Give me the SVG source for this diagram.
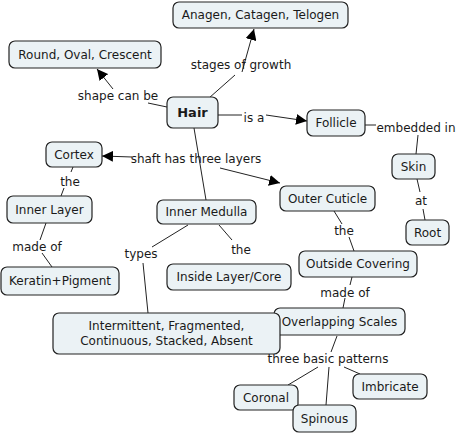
<svg xmlns="http://www.w3.org/2000/svg" width="458" height="434" viewBox="0 0 458 434">
<defs>
<marker id="arr" viewBox="0 0 10 10" refX="10" refY="5" markerWidth="11" markerHeight="11" markerUnits="userSpaceOnUse" orient="auto">
<path d="M0,0 L10,5 L0,10 Z" fill="#000"/>
</marker>
</defs>
<style>
.n rect{fill:#ebf2f5;stroke:#222;stroke-width:1.2}
text{font-family:"DejaVu Sans",Verdana,sans-serif;font-size:12px;fill:#1a1a1a;text-anchor:middle}
.c line{stroke:#222;stroke-width:1}
.b{font-weight:bold;font-size:13px}
</style>
<rect width="458" height="434" fill="#fff"/>
<g class="c" id="connectors">
<line x1="209" y1="98" x2="235" y2="75"/>
<line x1="242" y1="72" x2="254" y2="29" marker-end="url(#arr)"/>
<line x1="167" y1="107" x2="148" y2="103"/>
<line x1="113" y1="89" x2="97" y2="69" marker-end="url(#arr)"/>
<line x1="218" y1="115" x2="242" y2="115"/>
<line x1="266" y1="115" x2="307" y2="121" marker-end="url(#arr)"/>
<line x1="365" y1="125" x2="376" y2="125"/>
<line x1="418" y1="135" x2="416" y2="154"/>
<line x1="417" y1="179" x2="420" y2="192"/>
<line x1="423" y1="209" x2="425" y2="220"/>
<line x1="194" y1="128" x2="206" y2="200"/>
<line x1="132" y1="157" x2="102" y2="156" marker-end="url(#arr)"/>
<line x1="220" y1="168" x2="280" y2="183" marker-end="url(#arr)"/>
<line x1="73" y1="167" x2="71" y2="172"/>
<line x1="64" y1="188" x2="61" y2="196"/>
<line x1="46" y1="223" x2="40" y2="240"/>
<line x1="42" y1="253" x2="52" y2="267"/>
<line x1="188" y1="225" x2="152" y2="247"/>
<line x1="143" y1="263" x2="148" y2="313"/>
<line x1="219" y1="225" x2="232" y2="240"/>
<line x1="334" y1="211" x2="342" y2="224"/>
<line x1="349" y1="237" x2="354" y2="251"/>
<line x1="352" y1="277" x2="350" y2="285"/>
<line x1="345" y1="298" x2="343" y2="308"/>
<line x1="337" y1="336" x2="331" y2="352"/>
<line x1="318" y1="367" x2="288" y2="385"/>
<line x1="329" y1="367" x2="326" y2="405"/>
<line x1="344" y1="367" x2="360" y2="374"/>
</g>
<g id="labels">
<text x="241" y="69">stages of growth</text>
<text x="118" y="100">shape can be</text>
<text x="254" y="122">is a</text>
<text x="416" y="132">embedded in</text>
<text x="196" y="163">shaft has three layers</text>
<text x="70" y="186">the</text>
<text x="37" y="251">made of</text>
<text x="141" y="258">types</text>
<text x="241" y="254">the</text>
<text x="344" y="235">the</text>
<text x="421" y="205">at</text>
<text x="345" y="297">made of</text>
<text x="328" y="363">three basic patterns</text>
</g>
<g class="n" id="anagen"><rect x="173" y="2" width="175" height="26" rx="6"/><text x="260.5" y="19">Anagen, Catagen, Telogen</text></g>
<g class="n" id="round"><rect x="9" y="41" width="152" height="27" rx="6"/><text x="85" y="59">Round, Oval, Crescent</text></g>
<g class="n" id="hair"><rect x="167" y="97" width="51" height="31" rx="6"/><text class="b" x="192.5" y="117">Hair</text></g>
<g class="n" id="follicle"><rect x="307" y="110" width="58" height="26" rx="6"/><text x="336" y="127">Follicle</text></g>
<g class="n" id="skin"><rect x="392" y="154" width="43" height="25" rx="6"/><text x="413.5" y="171">Skin</text></g>
<g class="n" id="root"><rect x="406" y="220" width="43" height="25" rx="6"/><text x="427.5" y="237">Root</text></g>
<g class="n" id="cortex"><rect x="46" y="142" width="56" height="25" rx="6"/><text x="74" y="159">Cortex</text></g>
<g class="n" id="innerlayer"><rect x="7" y="196" width="85" height="27" rx="6"/><text x="49.5" y="214">Inner Layer</text></g>
<g class="n" id="keratin"><rect x="1" y="267" width="118" height="28" rx="6"/><text x="60" y="285">Keratin+Pigment</text></g>
<g class="n" id="medulla"><rect x="157" y="200" width="99" height="24" rx="6"/><text x="206.5" y="216">Inner Medulla</text></g>
<g class="n" id="inside"><rect x="167" y="264" width="124" height="26" rx="6"/><text x="229" y="281">Inside Layer/Core</text></g>
<g class="n" id="cuticle"><rect x="280" y="186" width="95" height="25" rx="6"/><text x="327.5" y="203">Outer Cuticle</text></g>
<g class="n" id="covering"><rect x="299" y="251" width="118" height="26" rx="6"/><text x="358" y="268">Outside Covering</text></g>
<g class="n" id="scales"><rect x="274" y="308" width="131" height="27" rx="6"/><text x="339.5" y="326">Overlapping Scales</text></g>
<g class="n" id="types"><rect x="53" y="313" width="227" height="41" rx="6"/><text x="166.5" y="330">Intermittent, Fragmented,</text><text x="166.5" y="345">Continuous, Stacked, Absent</text></g>
<g class="n" id="imbricate"><rect x="353" y="374" width="74" height="25" rx="6"/><text x="390" y="391">Imbricate</text></g>
<g class="n" id="coronal"><rect x="234" y="385" width="64" height="25" rx="6"/><text x="266" y="402">Coronal</text></g>
<g class="n" id="spinous"><rect x="293" y="405" width="63" height="27" rx="6"/><text x="324.5" y="423">Spinous</text></g>
</svg>
